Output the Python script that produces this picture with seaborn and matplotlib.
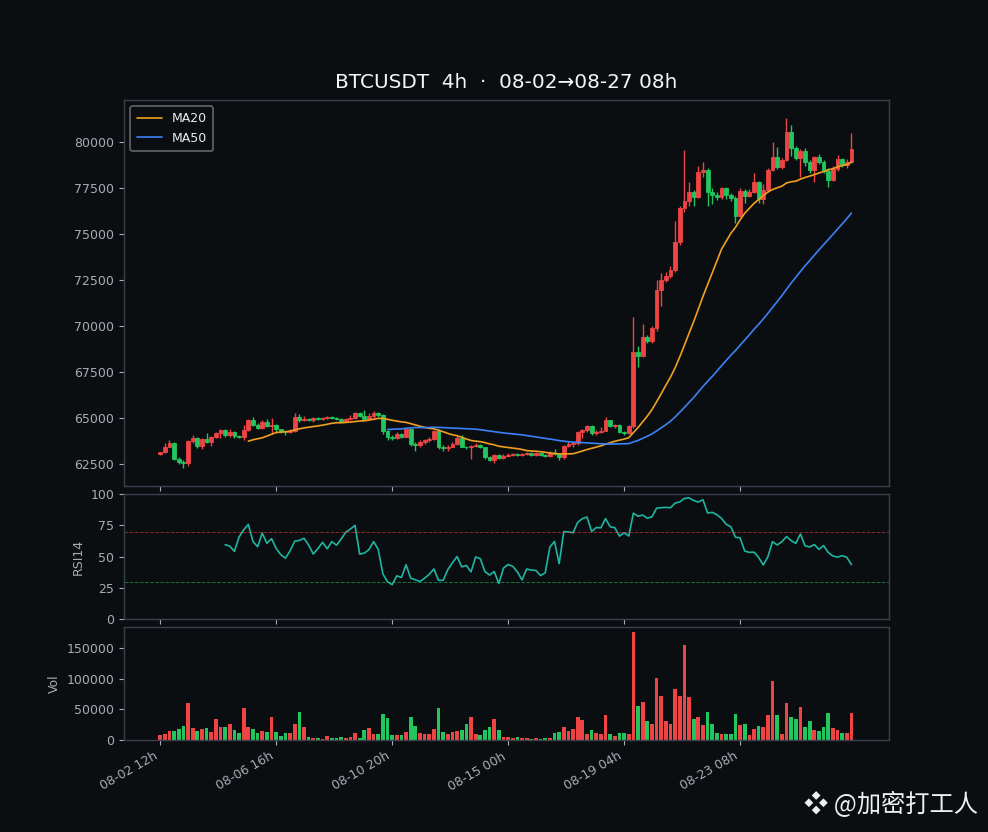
import numpy as np
import pandas as pd
import matplotlib
matplotlib.use("Agg")
import matplotlib.pyplot as plt
import matplotlib.ticker as mticker
import seaborn as sns

# ---------------- data ----------------
opens = [63050, 63130, 63450, 63650, 62770, 62600, 62540, 63750, 63920, 63500,
         63850, 63690, 63960, 64200, 64330, 64050, 64230, 64030, 63980, 64350,
         64880, 64620, 64480, 64800, 64560, 64620, 64380, 64290, 64250, 64300,
         65050, 64880, 64950, 64900, 64980, 64920, 65000, 65050, 65000, 64950,
         64850, 64950, 65000, 65250, 65100, 64950, 65100, 65250, 65150, 64280,
         63980, 63900, 64150, 63990, 64430, 63580, 63530, 63700, 63780, 63880,
         64300, 63450, 63350, 63450, 63600, 63900, 63450, 63400, 63500, 63560,
         63420, 62870, 62740, 63000, 62820, 62950, 63010, 63040, 62980, 63050,
         63080, 62990, 63080, 62970, 62950, 63080, 63050, 62860, 63480, 63600,
         63620, 64250, 64330, 64560, 64180, 64250, 64320, 64880, 64580, 64620,
         64250, 64200, 64550, 68580, 68370, 69400, 69180, 69880, 71980, 72470,
         72740, 73050, 74550, 76390, 76800, 77290, 77000, 78380, 78480, 77270,
         77120, 77000, 77500, 77100, 76950, 75990, 77340, 77070, 77300, 77820,
         76870, 77370, 78460, 79150, 78640, 79000, 80530, 79650, 79120, 79520,
         78890, 78480, 79150, 78890, 78430, 77940, 78530, 79060, 78750, 78900]
highs = [63180, 63640, 63800, 63700, 62900, 62700, 63800, 64080, 63960, 63900,
         64160, 64020, 64260, 64400, 64420, 64400, 64300, 64100, 64640, 64920,
         65050, 64750, 64900, 64950, 65000, 64700, 64400, 64350, 64380, 65280,
         65200, 65100, 65020, 65080, 65050, 65060, 65120, 65100, 65050, 65000,
         65000, 65150, 65350, 65300, 65450, 65250, 65400, 65300, 65200, 64350,
         64050, 64250, 64200, 64480, 64450, 63700, 63780, 63850, 63950, 64350,
         64400, 63550, 63520, 63680, 64000, 64100, 63500, 63560, 63620, 63600,
         63450, 62920, 63060, 63050, 63020, 63080, 63120, 63080, 63120, 63150,
         63130, 63150, 63120, 63050, 63200, 63300, 63100, 63550, 63750, 63700,
         64300, 64420, 64620, 64600, 64350, 64500, 65050, 64900, 64700, 64680,
         64320, 64600, 70480, 68900, 70080, 69500, 69990, 72500, 72850, 72950,
         73250, 75700, 76500, 79550, 77800, 77400, 78700, 78900, 78600, 77500,
         77300, 77550, 77550, 77200, 77050, 77500, 77450, 77450, 78300, 77900,
         77700, 78600, 80000, 79700, 79100, 81320, 80900, 79800, 79600, 79650,
         79000, 79250, 79350, 79000, 78600, 78700, 79300, 79100, 79050, 80500]
lows = [62990, 63080, 63400, 62700, 62480, 62260, 62400, 63650, 63380, 63330,
        63620, 63500, 63900, 63900, 63980, 63980, 63920, 63900, 63820, 64300,
        64560, 64380, 64400, 64500, 64150, 64250, 64200, 64050, 64200, 64260,
        64800, 64850, 64820, 64780, 64880, 64880, 64950, 64950, 64900, 64800,
        64800, 64900, 64950, 65050, 64900, 64900, 65000, 65050, 64150, 63800,
        63820, 63850, 63900, 63950, 63500, 63200, 63450, 63600, 63720, 63820,
        63300, 63200, 63200, 63400, 63550, 63400, 63300, 62780, 63400, 63350,
        62800, 62650, 62540, 62760, 62760, 62900, 62960, 62920, 62940, 63000,
        62940, 62950, 62930, 62880, 62900, 63000, 62720, 62750, 63420, 63400,
        63550, 63890, 64250, 64100, 64100, 64200, 64280, 64520, 64480, 64180,
        64100, 64150, 64450, 67770, 68300, 69050, 69100, 69700, 71100, 72400,
        72600, 72950, 74400, 76200, 76500, 76530, 76950, 78100, 76500, 76600,
        76850, 76900, 76900, 76800, 75570, 75900, 76700, 77000, 77200, 76700,
        76620, 77300, 78400, 78500, 78550, 78950, 79240, 79000, 78070, 78700,
        78300, 77800, 78800, 78300, 77560, 77900, 78400, 78650, 78600, 78850]
closes = [63130, 63450, 63650, 62770, 62600, 62540, 63750, 63920, 63500, 63850,
          63690, 63960, 64200, 64330, 64050, 64230, 64030, 63980, 64350, 64880,
          64620, 64480, 64800, 64560, 64620, 64380, 64290, 64250, 64300, 65050,
          64880, 64950, 64900, 64980, 64920, 65000, 65050, 65000, 64950, 64850,
          64950, 65000, 65250, 65100, 64950, 65100, 65250, 65150, 64280, 63980,
          63900, 64150, 63990, 64430, 63580, 63530, 63700, 63780, 63880, 64300,
          63450, 63350, 63450, 63600, 63900, 63450, 63400, 63500, 63560, 63420,
          62870, 62740, 63000, 62820, 62950, 63010, 63040, 62980, 63050, 63080,
          62990, 63080, 62970, 62950, 63080, 63050, 62860, 63480, 63600, 63620,
          64250, 64330, 64560, 64180, 64250, 64320, 64880, 64580, 64620, 64250,
          64200, 64550, 68580, 68370, 69400, 69180, 69880, 71980, 72470, 72740,
          73050, 74550, 76390, 76800, 77290, 77000, 78380, 78480, 77270, 77120,
          77000, 77500, 77100, 76950, 75990, 77340, 77070, 77300, 77820, 76870,
          77370, 78460, 79150, 78640, 79000, 80530, 79650, 79120, 79520, 78890,
          78480, 79150, 78890, 78430, 77940, 78530, 79060, 78750, 78900, 79620]
volumes = [8100, 9800, 14700, 14700, 17900, 22800, 60300, 19500, 14700, 17900,
           19500, 13000, 34200, 21200, 21200, 26100, 16300, 11400, 52100, 21200,
           17900, 11400, 14700, 13000, 37500, 13000, 6500, 11400, 11400, 26100,
           45600, 21200, 4900, 3300, 3300, 1600, 6500, 3300, 3300, 4900,
           3300, 4900, 11400, 3300, 16300, 19500, 9800, 9800, 42400, 35800,
           8100, 8100, 8100, 13000, 37500, 22800, 11400, 9800, 9800, 17900,
           52100, 13000, 9800, 13000, 14700, 16300, 26100, 37500, 9800, 8100,
           16300, 21200, 34200, 16300, 4900, 4900, 3300, 4900, 3300, 3300,
           1600, 3300, 1600, 3300, 3300, 11400, 13000, 21200, 14700, 17900,
           37500, 32600, 9800, 16300, 11400, 9800, 40700, 9800, 6500, 11400,
           11400, 9800, 175900, 55400, 61900, 31000, 26100, 101000, 71700, 31000,
           26100, 83100, 71700, 154800, 70000, 34200, 37500, 24400, 45600, 26100,
           11400, 9800, 9800, 9800, 42400, 24400, 26100, 8100, 17900, 22800,
           21200, 40700, 96100, 40700, 9800, 60300, 37500, 34200, 53800, 21200,
           31000, 16300, 14700, 21200, 44000, 19500, 16300, 11400, 11400, 44000]
tick_index = [0, 25, 50, 75, 100, 125]
tick_labels = ["08-02 12h", "08-06 16h", "08-10 20h", "08-15 00h", "08-19 04h", "08-23 08h"]
title_text = "BTCUSDT  4h  \u00b7  08-02\u219208-27 08h"

# ---------------- derived ----------------
df = pd.DataFrame({"open": opens, "high": highs, "low": lows,
                   "close": closes, "vol": volumes})
df["idx"] = np.arange(len(df))
df["ma20"] = df["close"].rolling(20).mean()
df["ma50"] = df["close"].rolling(50).mean()
delta = df["close"].diff()
gain = delta.clip(lower=0).rolling(14).mean()
loss = (-delta.clip(upper=0)).rolling(14).mean()
df["rsi"] = 100 - 100 / (1 + gain / loss)
up = df["close"] >= df["open"]

# ---------------- style ----------------
BG = "#0b0e11"
SPINE = "#3a404c"
TXT = "#a7adb6"
RED = "#ef4444"
GREEN = "#22c55e"
sns.set_theme(style="dark", rc={
    "figure.facecolor": BG, "axes.facecolor": BG, "axes.edgecolor": SPINE,
    "axes.labelcolor": TXT, "xtick.color": TXT, "ytick.color": TXT,
    "text.color": "#eaecef", "axes.grid": False,
    "xtick.bottom": True, "ytick.left": True,
})
plt.rcParams["font.family"] = ["DejaVu Sans", "Noto Sans CJK SC"]

fig = plt.figure(figsize=(9.88, 8.32), dpi=100)
L, W = 124 / 988, (889 - 124) / 988
def pos(top, bot):
    return [L, 1 - bot / 832, W, (bot - top) / 832]
ax1 = fig.add_axes(pos(100, 486))
ax2 = fig.add_axes(pos(494, 619), sharex=ax1)
ax3 = fig.add_axes(pos(627, 740), sharex=ax1)

colors = np.where(up, RED, GREEN)

# candles
ax1.vlines(df["idx"], df["low"], df["high"], colors=colors, linewidth=1.0, zorder=2)
body_bottom = np.minimum(df["open"], df["close"])
body_h = np.maximum(np.abs(df["close"] - df["open"]), 40)
ax1.bar(df["idx"], body_h, bottom=body_bottom, width=0.82, color=colors,
        edgecolor=colors, linewidth=0.6, zorder=3)
sns.lineplot(data=df, x="idx", y="ma20", ax=ax1, color="#f0a020", linewidth=1.2,
             label="MA20", zorder=4)
sns.lineplot(data=df, x="idx", y="ma50", ax=ax1, color="#3b82f6", linewidth=1.2,
             label="MA50", zorder=4)
lo, hi = df["low"].min(), df["high"].max()
rng = hi - lo
ax1.set_ylim(lo - 0.05 * rng, hi + 0.05 * rng)
ax1.yaxis.set_major_locator(mticker.MultipleLocator(2500))
ax1.yaxis.set_major_formatter(mticker.StrMethodFormatter("{x:.0f}"))
ax1.set_xlabel("")
ax1.set_ylabel("")
leg = ax1.legend(loc="upper left", fontsize=9, facecolor=BG, edgecolor="#61666e",
                 labelcolor="#eaecef", framealpha=1, borderpad=0.5)
leg.get_frame().set_linewidth(1.2)
ax1.set_title(title_text, color="#f5f5f5", fontsize=14.4, pad=8.5)

# RSI
sns.lineplot(data=df, x="idx", y="rsi", ax=ax2, color="#1fb5a2", linewidth=1.2)
ax2.axhline(70, color=RED, alpha=0.55, linestyle="--", linewidth=0.7)
ax2.axhline(30, color=GREEN, alpha=0.55, linestyle="--", linewidth=0.7)
ax2.set_ylim(0, 100)
ax2.set_yticks([0, 25, 50, 75, 100])
ax2.set_ylabel("RSI14", fontsize=9)
ax2.set_xlabel("")

# Volume
ax3.bar(df["idx"], df["vol"], width=0.8, color=colors, linewidth=0)
ax3.set_ylim(0, df["vol"].max() * 1.05)
ax3.set_yticks([0, 50000, 100000, 150000])
ax3.yaxis.set_major_formatter(mticker.StrMethodFormatter("{x:.0f}"))
ax3.set_ylabel("Vol", fontsize=9)
ax3.set_xlabel("")

ax1.set_xlim(-7.8, 157.1)
ax3.set_xticks(tick_index)
ax3.set_xticklabels(tick_labels, rotation=30, ha="right", fontsize=9)
for ax in (ax1, ax2):
    plt.setp(ax.get_xticklabels(), visible=False)
for ax in (ax1, ax2, ax3):
    ax.tick_params(axis="both", length=3.5, width=0.8, color=TXT, labelsize=9)
    for s in ax.spines.values():
        s.set_color(SPINE)
        s.set_linewidth(1.0)

fig.text(0.99, 0.032, "\u2756 @\u52a0\u5bc6\u6253\u5de5\u4eba", ha="right", va="center",
         fontsize=17.5, color="#f0f0f0",
         family=["Noto Sans CJK SC", "DejaVu Sans"])

fig.savefig("out.png", dpi=100, facecolor=BG)
